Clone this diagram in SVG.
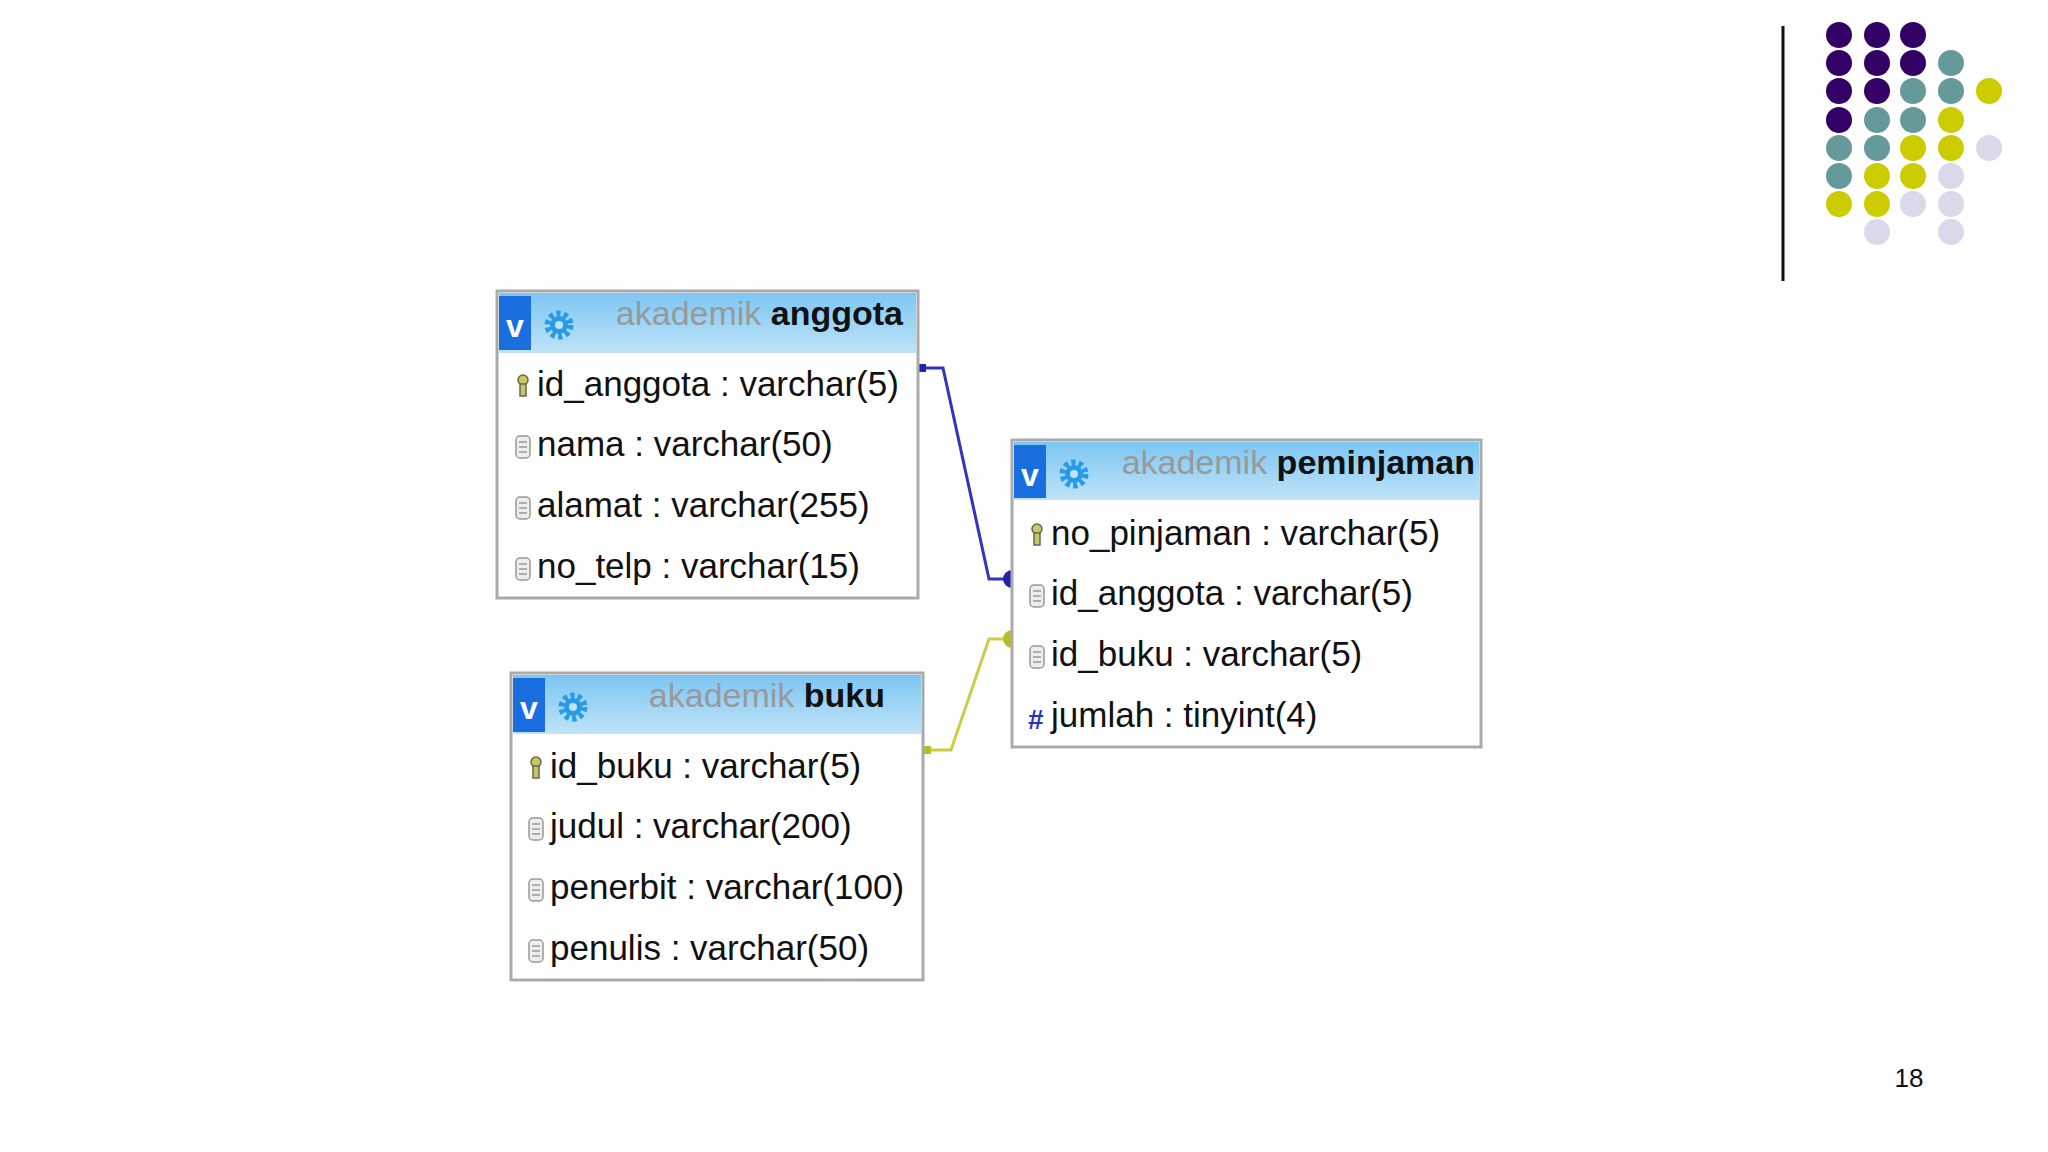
<svg xmlns="http://www.w3.org/2000/svg" width="2048" height="1152" viewBox="0 0 2048 1152">
<defs>
<linearGradient id="hg" x1="0" y1="0" x2="0" y2="1"><stop offset="0" stop-color="#7cc6f3"/><stop offset="1" stop-color="#bfe3f8"/></linearGradient>
<g id="gear"><circle r="11" fill="none" stroke="#2a9ae8" stroke-width="7" stroke-dasharray="4 3"/><circle r="9" fill="#2a9ae8"/><circle r="4" fill="#bfe3f8"/></g>
<g id="col"><rect x="-7" y="-11" width="14" height="22" rx="4" fill="#eee" stroke="#999" stroke-width="1.5"/><path d="M-4 -5h8M-4 0h8M-4 5h8" stroke="#999" stroke-width="1.5"/></g>
<g id="key"><circle cx="0" cy="-5" r="5" fill="#c8c860" stroke="#665" stroke-width="1.5"/><rect x="-3" y="-1" width="6" height="12" fill="#c8c860" stroke="#665" stroke-width="1.5"/></g>
</defs>
<style>
.box{fill:#fff;stroke:#aaa;stroke-width:3}
.f{font-family:"Liberation Sans",Arial,sans-serif;font-size:35px;fill:#111}
.t{font-family:"Liberation Sans",Arial,sans-serif;font-size:34px}
.db{fill:#999}
.tb{fill:#111;font-weight:bold}
.v{fill:#1a6fe0}
</style>
<rect width="2048" height="1152" fill="#fff"/>
<g id="decor">
<line x1="1783" y1="26" x2="1783" y2="281" stroke="#111" stroke-width="3"/>
<g fill="#330066">
<circle cx="1839" cy="35" r="13"/><circle cx="1877" cy="35" r="13"/><circle cx="1913" cy="35" r="13"/>
<circle cx="1839" cy="63" r="13"/><circle cx="1877" cy="63" r="13"/><circle cx="1913" cy="63" r="13"/>
<circle cx="1839" cy="91" r="13"/><circle cx="1877" cy="91" r="13"/>
<circle cx="1839" cy="120" r="13"/>
</g>
<g fill="#669999">
<circle cx="1951" cy="63" r="13"/><circle cx="1913" cy="91" r="13"/><circle cx="1951" cy="91" r="13"/>
<circle cx="1877" cy="120" r="13"/><circle cx="1913" cy="120" r="13"/>
<circle cx="1839" cy="148" r="13"/><circle cx="1877" cy="148" r="13"/><circle cx="1839" cy="176" r="13"/>
</g>
<g fill="#cccc00">
<circle cx="1989" cy="91" r="13"/><circle cx="1951" cy="120" r="13"/><circle cx="1913" cy="148" r="13"/><circle cx="1951" cy="148" r="13"/>
<circle cx="1877" cy="176" r="13"/><circle cx="1913" cy="176" r="13"/><circle cx="1839" cy="204" r="13"/><circle cx="1877" cy="204" r="13"/>
</g>
<g fill="#d9d9ea">
<circle cx="1989" cy="148" r="13"/><circle cx="1951" cy="176" r="13"/><circle cx="1913" cy="204" r="13"/><circle cx="1951" cy="204" r="13"/>
<circle cx="1877" cy="232" r="13"/><circle cx="1951" cy="232" r="13"/>
</g>
<text x="1909" y="1087" font-family="Liberation Sans,Arial,sans-serif" font-size="26" text-anchor="middle" fill="#111">18</text>
</g>
<g id="connectors" fill="none" stroke-width="3">
<path d="M921 368H943L989 579H1010" stroke="#3333bb"/>
<rect x="918" y="364" width="8" height="8" fill="#2222aa" stroke="none"/>
<path d="M1012 570a9 9 0 0 0 0 18z" fill="#2222aa" stroke="none"/>
<path d="M926 750H951L989 639H1010" stroke="#cccc44"/>
<rect x="923" y="746" width="8" height="8" fill="#bbbb22" stroke="none"/>
<path d="M1012 630a9 9 0 0 0 0 18z" fill="#bbbb22" stroke="none"/>
</g>
<g id="anggota">
<rect class="box" x="497" y="291" width="421" height="307"/>
<rect x="499" y="293" width="417" height="60" fill="url(#hg)"/>
<rect class="v" x="499" y="296" width="32" height="54"/>
<text x="506" y="337" font-family="Liberation Sans,Arial,sans-serif" font-size="32" font-weight="bold" fill="#fff">v</text>
<use href="#gear" x="559" y="325"/>
<text class="t" x="903" y="325" text-anchor="end"><tspan class="db">akademik </tspan><tspan class="tb">anggota</tspan></text>
<use href="#key" x="523" y="385"/><text class="f" x="537" y="396">id_anggota : varchar(5)</text>
<use href="#col" x="523" y="447"/><text class="f" x="537" y="456">nama : varchar(50)</text>
<use href="#col" x="523" y="508"/><text class="f" x="537" y="517">alamat : varchar(255)</text>
<use href="#col" x="523" y="569"/><text class="f" x="537" y="578">no_telp : varchar(15)</text>
</g>
<g id="peminjaman">
<rect class="box" x="1012" y="440" width="469" height="307"/>
<rect x="1014" y="442" width="465" height="58" fill="url(#hg)"/>
<rect class="v" x="1014" y="445" width="32" height="53"/>
<text x="1021" y="486" font-family="Liberation Sans,Arial,sans-serif" font-size="32" font-weight="bold" fill="#fff">v</text>
<use href="#gear" x="1074" y="474"/>
<text class="t" x="1475" y="474" text-anchor="end"><tspan class="db">akademik </tspan><tspan class="tb">peminjaman</tspan></text>
<use href="#key" x="1037" y="534"/><text class="f" x="1051" y="545">no_pinjaman : varchar(5)</text>
<use href="#col" x="1037" y="596"/><text class="f" x="1051" y="605">id_anggota : varchar(5)</text>
<use href="#col" x="1037" y="657"/><text class="f" x="1051" y="666">id_buku : varchar(5)</text>
<text x="1028" y="729" font-family="Liberation Sans,Arial,sans-serif" font-size="28" font-weight="bold" fill="#2233cc">#</text>
<text class="f" x="1051" y="727">jumlah : tinyint(4)</text>
</g>
<g id="buku">
<rect class="box" x="511" y="673" width="412" height="307"/>
<rect x="513" y="675" width="408" height="59" fill="url(#hg)"/>
<rect class="v" x="513" y="678" width="32" height="54"/>
<text x="520" y="719" font-family="Liberation Sans,Arial,sans-serif" font-size="32" font-weight="bold" fill="#fff">v</text>
<use href="#gear" x="573" y="707"/>
<text class="t" x="885" y="707" text-anchor="end"><tspan class="db">akademik </tspan><tspan class="tb">buku</tspan></text>
<use href="#key" x="536" y="767"/><text class="f" x="550" y="778">id_buku : varchar(5)</text>
<use href="#col" x="536" y="829"/><text class="f" x="550" y="838">judul : varchar(200)</text>
<use href="#col" x="536" y="890"/><text class="f" x="550" y="899">penerbit : varchar(100)</text>
<use href="#col" x="536" y="951"/><text class="f" x="550" y="960">penulis : varchar(50)</text>
</g>
</svg>
